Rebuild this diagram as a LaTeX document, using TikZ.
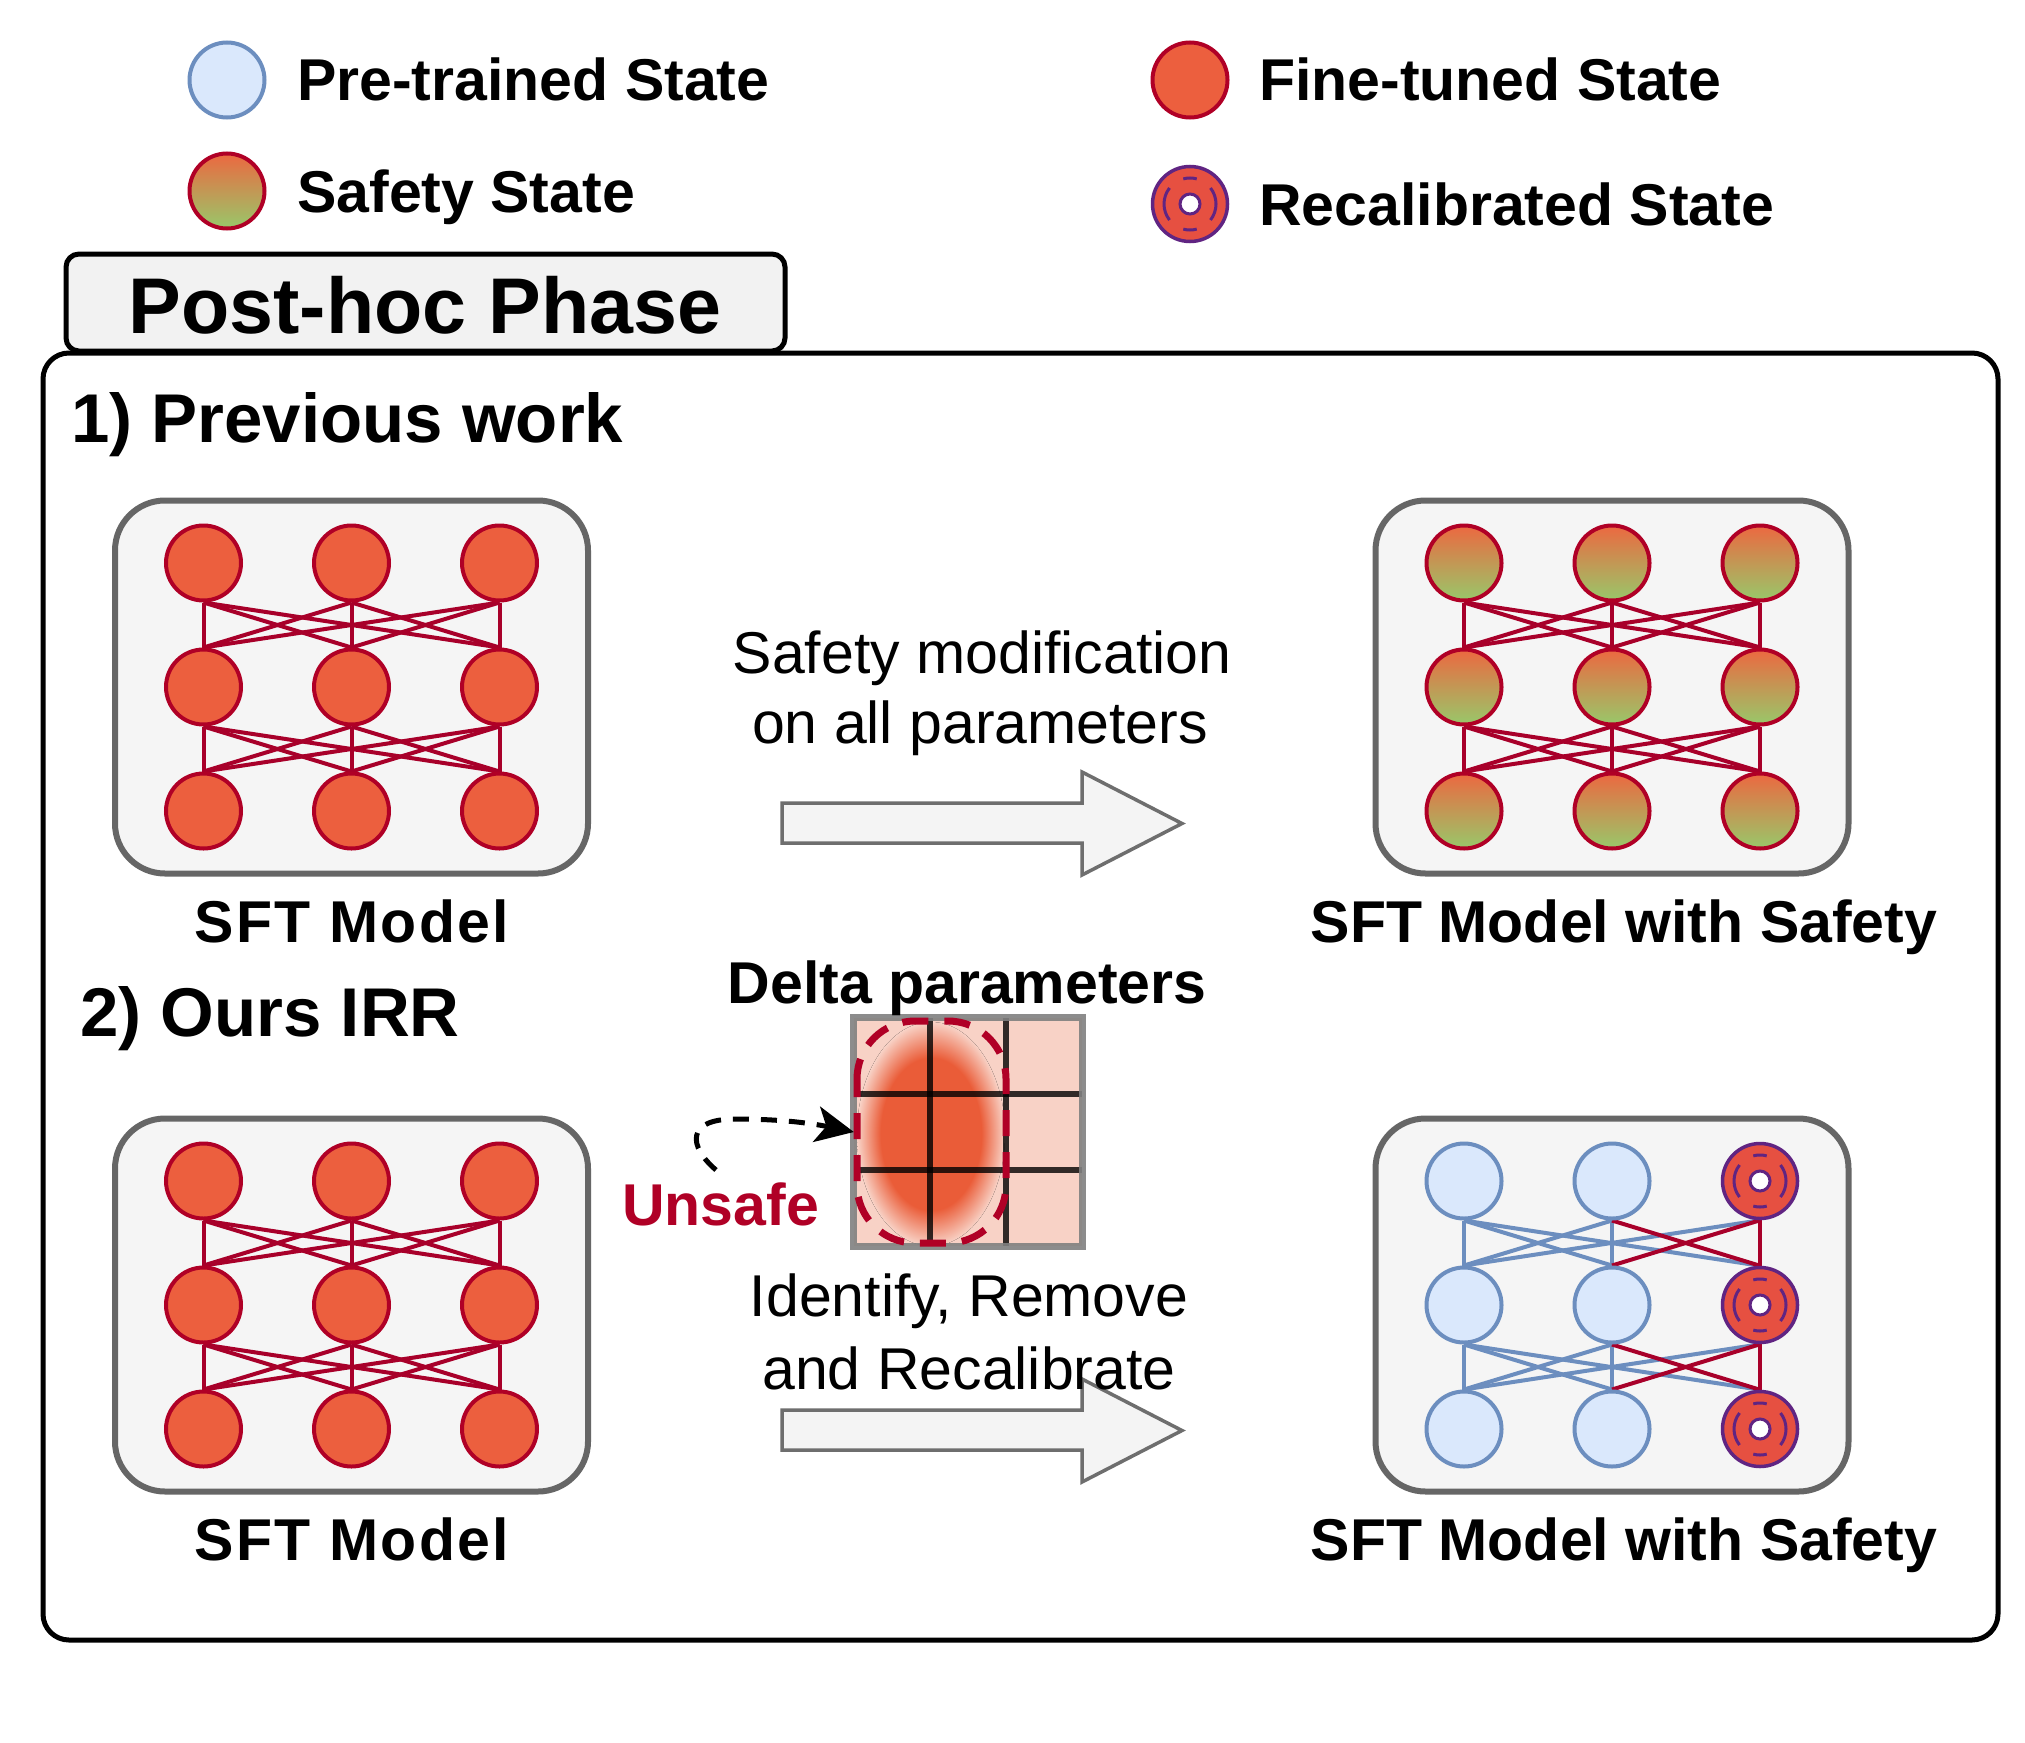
\documentclass[tikz,border=0pt]{standalone}
\usepackage{fontspec}
\setmainfont{Liberation Sans}
\usetikzlibrary{arrows.meta,calc}

\definecolor{ftfill}{RGB}{236,95,62}
\definecolor{ftdraw}{RGB}{176,0,38}
\definecolor{ptfill}{HTML}{DAE8FC}
\definecolor{ptdraw}{HTML}{6C8EBF}
\definecolor{edgered}{RGB}{168,0,42}
\definecolor{sftop}{RGB}{236,104,64}
\definecolor{sfbot}{RGB}{152,200,106}
\definecolor{recfill}{RGB}{230,80,65}
\definecolor{recdraw}{RGB}{96,36,130}
\definecolor{boxdraw}{HTML}{666666}
\definecolor{boxfill}{HTML}{F5F5F5}
\definecolor{arrdraw}{HTML}{6E6E6E}
\definecolor{arrfill}{HTML}{F4F4F4}
\definecolor{pinkcell}{RGB}{248,210,198}
\definecolor{blobc}{RGB}{234,92,56}
\definecolor{tabfill}{HTML}{F2F2F2}

\pgfdeclareradialshading{blob}{\pgfpoint{0bp}{0bp}}{color(0bp)=(blobc); color(17bp)=(blobc); color(25bp)=(pinkcell); color(50bp)=(pinkcell)}

\pgfdeclarelayer{bg}
\pgfdeclarelayer{edg}
\pgfsetlayers{bg,edg,main}

\tikzset{
  nd/.style={circle, minimum size=75pt, inner sep=0pt, line width=4pt},
  ft/.style={nd, fill=ftfill, draw=ftdraw},
  pt/.style={nd, fill=ptfill, draw=ptdraw},
  sf/.style={nd, draw=ftdraw, top color=sftop, bottom color=sfbot},
  rc/.style={nd, fill=recfill, draw=recdraw, line width=3.5pt},
  modelbox/.style={rectangle, draw=boxdraw, fill=boxfill, line width=6pt, rounded corners=50pt,
    minimum width=473pt, minimum height=373pt, inner sep=0pt},
  redge/.style={draw=edgered, line width=4pt},
  bedge/.style={draw=ptdraw, line width=4pt},
  lab/.style={font=\fontsize{59}{70}\selectfont\bfseries, inner sep=0pt},
  spaced/.style={font=\fontsize{59}{70}\selectfont\bfseries\addfontfeatures{LetterSpace=4}, inner sep=0pt},
  plain/.style={font=\fontsize{59}{70}\selectfont, inner sep=0pt},
  head/.style={font=\fontsize{69}{80}\selectfont\bfseries, inner sep=0pt},
  frame/.style={draw=black, fill=white, line width=5pt, rounded corners=26pt},
  tabbox/.style={draw=black, fill=tabfill, line width=5pt, rounded corners=13pt},
  blockarrow/.style={draw=arrdraw, fill=arrfill, line width=3.5pt, line join=miter},
  recmark/.style={draw=recdraw, line width=3pt},
}

\newcommand\recdeco[1]{%
  \fill[white] (#1.center) circle[radius=10];
  \draw[recmark] (#1.center) circle[radius=10];
  \draw[recmark] (#1.center) ++(75:26) arc[start angle=75, end angle=105, radius=26];
  \draw[recmark] (#1.center) ++(-38:26) arc[start angle=-38, end angle=38, radius=26];
  \draw[recmark] (#1.center) ++(142:26) arc[start angle=142, end angle=218, radius=26];
  \draw[recmark] (#1.center) ++(-105:26) arc[start angle=-105, end angle=-75, radius=26];
}

\newcommand\mymodel[5]{%
  \begin{pgfonlayer}{bg}
    \node[modelbox] (#1box) at (#2,#3) {};
  \end{pgfonlayer}
  \foreach \r in {1,2,3}{
    \foreach \c in {1,2,3}{
      \node[#4] (#1-\r-\c) at ({#2+148*(\c-2)},{#3+124*(\r-2)}) {};
    }
  }
  \begin{pgfonlayer}{edg}
    \foreach \r/\s in {1/2,2/3}{
      \foreach \a in {1,2,3}{
        \foreach \b in {1,2,3}{
          \draw[#5] (#1-\r-\a.south) -- (#1-\s-\b.north);
        }
      }
    }
  \end{pgfonlayer}
}

\begin{document}
\begin{tikzpicture}[x=1pt,y=-1pt]
\useasboundingbox (0,0) rectangle (2025,1742);

% legend
\node[pt] (legpt) at (227,80) {};
\node[lab, anchor=base west] (legpttxt) at (297,101) {Pre-trained State};
\node[sf] (legsf) at (227,191) {};
\node[lab, anchor=base west] (legsftxt) at (297,212) {Safety State};
\node[ft] (legft) at (1190,80) {};
\node[lab, anchor=base west] (legfttxt) at (1259,101) {Fine-tuned State};
\node[rc] (legrc) at (1190,204) {};
\recdeco{legrc}
\node[lab, anchor=base west] (legrctxt) at (1259,225) {Recalibrated State};

% frame and tab
\begin{pgfonlayer}{bg}
  \draw[frame] (43,353) rectangle (1998,1640);
  \draw[tabbox] (66,254) rectangle (785,351);
\end{pgfonlayer}
\node[font=\fontsize{79}{90}\selectfont\bfseries, inner sep=0pt, anchor=base] (tabtxt) at (425,333) {Post-hoc Phase};

\node[head, anchor=base west] (h1) at (71,442) {1) Previous work};
\node[head, anchor=base west] (h2) at (80,1036) {2) Ours IRR};

% models
\mymodel{tl}{351.5}{687}{ft}{redge}
\mymodel{tr}{1612}{687}{sf}{redge}
\mymodel{bl}{351.5}{1305}{ft}{redge}

% bottom-right model
\begin{pgfonlayer}{bg}
  \node[modelbox] (brbox) at (1612,1305) {};
\end{pgfonlayer}
\foreach \r in {1,2,3}{
  \foreach \c/\st in {1/pt,2/pt,3/rc}{
    \node[\st] (br-\r-\c) at ({1612+148*(\c-2)},{1305+124*(\r-2)}) {};
  }
}
\foreach \r in {1,2,3}{\recdeco{br-\r-3}}
\begin{pgfonlayer}{edg}
  \foreach \r/\s in {1/2,2/3}{
    \foreach \a/\b/\e in {1/1/bedge,1/2/bedge,1/3/bedge,2/1/bedge,2/2/bedge,3/1/bedge,2/3/redge,3/2/redge,3/3/redge}{
      \draw[\e] (br-\r-\a.south) -- (br-\s-\b.north);
    }
  }
\end{pgfonlayer}

% labels under models
\node[spaced, anchor=base] (ltl) at (352,942) {SFT Model};
\node[lab, anchor=base] (ltr) at (1624,942) {SFT Model with Safety};
\node[spaced, anchor=base] (lbl) at (352,1560) {SFT Model};
\node[lab, anchor=base] (lbr) at (1624,1560) {SFT Model with Safety};

% top arrow
\node[plain, anchor=base] (t1a) at (982,673) {Safety modification};
\node[plain, anchor=base] (t1b) at (980,743) {on all parameters};
\draw[blockarrow] (782,803) -- (1082,803) -- (1082,772) -- (1182,823.5) -- (1082,875) -- (1082,843) -- (782,843) -- cycle;

% bottom arrow
\draw[blockarrow] (782,1410) -- (1082,1410) -- (1082,1379) -- (1182,1430.5) -- (1082,1482) -- (1082,1450) -- (782,1450) -- cycle;
\node[plain, anchor=base] (t2a) at (969,1316) {Identify, Remove};
\node[plain, anchor=base] (t2b) at (969,1389) {and Recalibrate};

% delta parameters grid
\node[inner sep=0pt, minimum width=228pt, minimum height=228pt] (grid) at (968,1132) {};
\fill[pinkcell] (grid.north west) rectangle (grid.south east);
\fill[shading=blob] (931,1134) ellipse [x radius=74, y radius=112];
\foreach \xx in {930,1006}{
  \draw[black, opacity=0.8, line width=5.5pt] (\xx,1018) -- (\xx,1246);
}
\foreach \yy in {1094,1170}{
  \draw[black, opacity=0.8, line width=5.5pt] (854,\yy) -- (1082,\yy);
}
\draw[gray, opacity=0.9, line width=7pt] (grid.north west) rectangle (grid.south east);
\draw[ftdraw, line width=7pt, dash pattern=on 26pt off 16pt, dash phase=8pt, rounded corners=58pt] (857,1021) rectangle (1006,1243);
\node[lab, anchor=base] (deltatxt) at (967,1003) {Delta parameters};

% unsafe
\node[lab, anchor=base west, text=ftdraw] (unsafe) at (622,1225) {Unsafe};
\coordinate (ua) at (716,1170);
\draw[black, line width=5pt, dash pattern=on 16pt off 12pt, -{Stealth[length=38pt,width=36pt,inset=10pt]}]
  (ua) .. controls (688,1146) and (686,1119) .. (735,1119) .. controls (785,1119) and (815,1124) .. (grid.west);

\end{tikzpicture}
\end{document}
